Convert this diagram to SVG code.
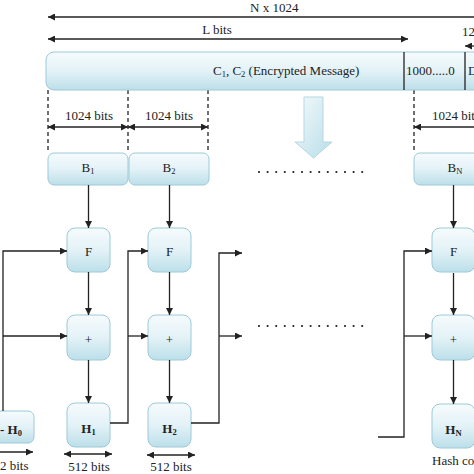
<svg xmlns="http://www.w3.org/2000/svg" width="474" height="474" viewBox="0 0 474 474">
<style>
text{font-family:"Liberation Serif","Times New Roman",serif;font-size:13px;fill:#222}
.m{text-anchor:middle}
.b{font-weight:bold}
.box{fill:url(#g);stroke:#9ccad8;stroke-width:1}
.ln{fill:none;stroke:#222;stroke-width:1.3}
.a{marker-end:url(#ah)}
.d{marker-start:url(#ah);marker-end:url(#ah)}
.s{marker-start:url(#ah)}
.dash{stroke:#333;stroke-width:1.4;stroke-dasharray:4 3;fill:none}
</style>
<defs>
<linearGradient id="g" x1="0" y1="0" x2="0" y2="1">
<stop offset="0" stop-color="#f6fbfd"/>
<stop offset="0.5" stop-color="#e3f2f7"/>
<stop offset="1" stop-color="#bcdfe9"/>
</linearGradient>
<linearGradient id="ga" x1="0" y1="0" x2="1" y2="1">
<stop offset="0" stop-color="#f4fafc"/>
<stop offset="1" stop-color="#b9dde8"/>
</linearGradient>
<marker id="ah" viewBox="0 0 10 10" refX="10" refY="5" markerWidth="7" markerHeight="7" markerUnits="userSpaceOnUse" orient="auto-start-reverse">
<path d="M0,0 L10,5 L0,10 z" fill="#222"/>
</marker>
</defs>

<g id="dimensions">
<line class="ln s" x1="48" y1="17" x2="474" y2="17"/>
<text x="250" y="12">N x 1024</text>
<line class="ln d" x1="48" y1="39" x2="408" y2="39"/>
<text x="217" y="34" class="m">L bits</text>
<line class="ln s" x1="465" y1="46" x2="474" y2="46"/>
<text x="462" y="36">128 bits</text>
<line class="dash" x1="48" y1="90" x2="48" y2="150"/>
<line class="dash" x1="128" y1="90" x2="128" y2="150"/>
<line class="dash" x1="208" y1="90" x2="208" y2="150"/>
<line class="dash" x1="414" y1="90" x2="414" y2="150"/>
<line class="ln d" x1="48" y1="127" x2="128" y2="127"/>
<line class="ln d" x1="128" y1="127" x2="208" y2="127"/>
<line class="ln s" x1="414" y1="127" x2="474" y2="127"/>
<text x="89" y="120" class="m">1024 bits</text>
<text x="169" y="120" class="m">1024 bits</text>
<text x="432" y="120">1024 bits</text>
<line class="ln a" x1="-10" y1="452" x2="33" y2="452"/>
<line class="ln d" x1="64" y1="454" x2="112" y2="454"/>
<line class="ln d" x1="147" y1="455" x2="195" y2="455"/>
<text x="-13" y="470">512 bits</text>
<text x="89" y="471" class="m">512 bits</text>
<text x="171" y="471" class="m">512 bits</text>
<text x="432" y="465">Hash code</text>
</g>

<g id="message">
<rect class="box" x="46" y="52" width="440" height="38" rx="8"/>
<line class="ln" x1="404" y1="52" x2="404" y2="90"/>
<line class="ln" x1="465" y1="52" x2="465" y2="90"/>
<text x="213" y="75">C<tspan font-size="8.5" dy="2">1</tspan><tspan dy="-2">, C</tspan><tspan font-size="8.5" dy="2">2</tspan><tspan dy="-2"> (Encrypted Message)</tspan></text>
<text x="406" y="75">1000.....0</text>
<text x="468" y="75">D</text>
</g>

<g id="split-arrow">
<polygon points="304,97 323,97 323,142 332,142 313.5,158 295,142 304,142" fill="url(#ga)" stroke="#b3d8e4" stroke-width="1"/>
</g>

<g id="dots">
<line x1="259" y1="172" x2="363" y2="172" stroke="#222" stroke-width="2.2" stroke-linecap="round" stroke-dasharray="0 8.6"/>
<line x1="259" y1="326" x2="363" y2="326" stroke="#222" stroke-width="2.2" stroke-linecap="round" stroke-dasharray="0 8.6"/>
</g>

<g id="B1"><rect class="box" x="48" y="153" width="80" height="32" rx="6"/><text x="88" y="172" class="m">B<tspan font-size="8.5" dy="2">1</tspan></text></g>
<g id="B2"><rect class="box" x="129" y="153" width="80" height="32" rx="6"/><text x="169" y="172" class="m">B<tspan font-size="8.5" dy="2">2</tspan></text></g>
<g id="BN"><rect class="box" x="414" y="153" width="80" height="32" rx="6"/><text x="455" y="172" class="m">B<tspan font-size="8.5" dy="2">N</tspan></text></g>

<g id="F1"><rect class="box" x="67" y="228" width="43" height="44" rx="8"/><text x="88.5" y="256" class="m">F</text></g>
<g id="F2"><rect class="box" x="148" y="228" width="43" height="44" rx="8"/><text x="169.5" y="256" class="m">F</text></g>
<g id="FN"><rect class="box" x="432" y="228" width="43" height="44" rx="8"/><text x="453.5" y="256" class="m">F</text></g>

<g id="P1"><rect class="box" x="67" y="315" width="43" height="45" rx="8"/><text x="88.5" y="344" class="m">+</text></g>
<g id="P2"><rect class="box" x="148" y="315" width="43" height="45" rx="8"/><text x="169.5" y="344" class="m">+</text></g>
<g id="PN"><rect class="box" x="432" y="315" width="43" height="45" rx="8"/><text x="453.5" y="344" class="m">+</text></g>

<g id="H0"><rect class="box" x="-40" y="411" width="74" height="32" rx="6"/><text x="0" y="434" class="b">- H<tspan font-size="8.5" dy="2">0</tspan></text></g>
<g id="H1"><rect class="box" x="67" y="403" width="43" height="44" rx="8"/><text x="88.5" y="433" class="m b">H<tspan font-size="8.5" dy="2">1</tspan></text></g>
<g id="H2"><rect class="box" x="148" y="403" width="43" height="44" rx="8"/><text x="169.5" y="433" class="m b">H<tspan font-size="8.5" dy="2">2</tspan></text></g>
<g id="HN"><rect class="box" x="432" y="404" width="43" height="44" rx="8"/><text x="453.5" y="434" class="m b">H<tspan font-size="8.5" dy="2">N</tspan></text></g>

<g id="connectors">
<line class="ln a" x1="88.5" y1="185" x2="88.5" y2="228"/>
<line class="ln a" x1="88.5" y1="272" x2="88.5" y2="315"/>
<line class="ln a" x1="88.5" y1="360" x2="88.5" y2="403"/>
<line class="ln a" x1="169.5" y1="185" x2="169.5" y2="228"/>
<line class="ln a" x1="169.5" y1="272" x2="169.5" y2="315"/>
<line class="ln a" x1="169.5" y1="360" x2="169.5" y2="403"/>
<line class="ln a" x1="453.5" y1="185" x2="453.5" y2="228"/>
<line class="ln a" x1="453.5" y1="273" x2="453.5" y2="315"/>
<line class="ln a" x1="453.5" y1="360" x2="453.5" y2="404"/>
<path class="ln a" d="M3,411 V251 H67"/>
<path class="ln a" d="M3,336 H67"/>
<path class="ln a" d="M110,423 H128 V251 H148"/>
<path class="ln a" d="M128,336 H148"/>
<path class="ln a" d="M191,423 H219 V253 H242"/>
<path class="ln a" d="M219,336 H242"/>
<path class="ln a" d="M378,437 H404 V251 H432"/>
<path class="ln a" d="M404,336 H432"/>
</g>
</svg>
